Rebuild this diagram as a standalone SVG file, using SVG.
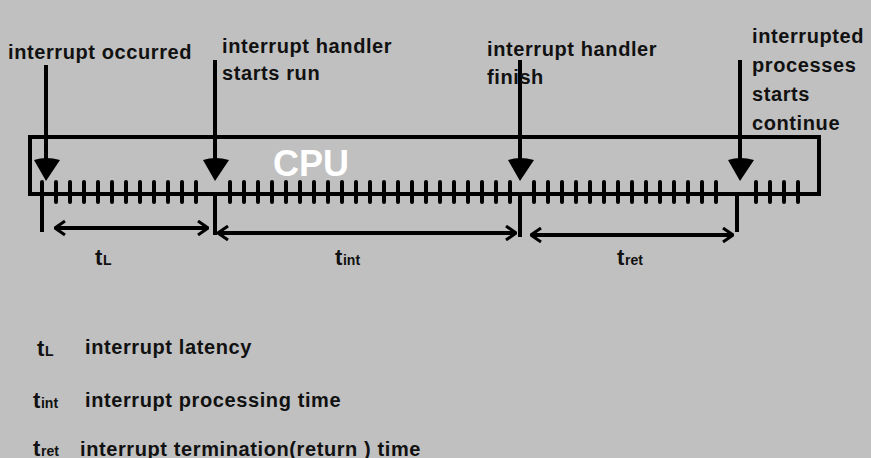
<svg xmlns="http://www.w3.org/2000/svg" width="871" height="458" viewBox="0 0 871 458">
<style>
.t{font-family:"Liberation Sans",Arial,sans-serif;font-weight:bold;font-size:20px;letter-spacing:0.6px;fill:#111}
.s{font-family:"Liberation Sans",Arial,sans-serif;font-weight:bold;font-size:14px;fill:#111}
.ln{stroke:#000;stroke-width:4;fill:none}
.tk{stroke:#000;stroke-width:4;stroke-linecap:round}
</style>
<defs>
<marker id="oa" viewBox="0 0 12 16" refX="11" refY="8" markerWidth="12" markerHeight="16" markerUnits="userSpaceOnUse" orient="auto-start-reverse"><path d="M1 1 L11 8 L1 15" fill="none" stroke="#000" stroke-width="3"/></marker>
</defs>
<rect width="871" height="458" fill="#c0c0c0"/>
<g id="cpu">
<rect x="30" y="137" width="789" height="57" class="ln"/>
<path class="tk" d="M42 182V202M56 182V202M70 182V202M84 182V202M98 182V202M112 182V202M126 182V202M140 182V202M154 182V202M168 182V202M182 182V202M196 182V202M230 182V202M244 182V202M258 182V202M272 182V202M286 182V202M300 182V202M314 182V202M328 182V202M342 182V202M356 182V202M370 182V202M384 182V202M398 182V202M412 182V202M426 182V202M440 182V202M454 182V202M468 182V202M482 182V202M496 182V202M510 182V202M534 182V202M548 182V202M562 182V202M576 182V202M590 182V202M604 182V202M618 182V202M632 182V202M646 182V202M660 182V202M674 182V202M688 182V202M702 182V202M716 182V202M756 182V202M770 182V202M784 182V202M798 182V202"/>
<text x="273" y="176" style="font-family:'Liberation Sans',Arial,sans-serif;font-size:36px;font-weight:bold;fill:#fff">CPU</text>
</g>
<g id="events">
<path class="ln" d="M46 65V165M215 60V165M520 60V165M740 60V165"/>
<path d="M34 160Q46 156 60 160L46 181Z M203 160Q215 156 229 160L215 181Z M508 160Q520 156 534 160L520 181Z M728 160Q740 156 754 160L740 181Z" fill="#000"/>
<path class="ln" d="M42 195V232M215 195V235M520 195V237M737 195V232"/>
</g>
<g id="connectors">
<line x1="55" y1="228" x2="208" y2="228" class="ln" marker-start="url(#oa)" marker-end="url(#oa)"/>
<line x1="218" y1="233" x2="516" y2="233" class="ln" marker-start="url(#oa)" marker-end="url(#oa)"/>
<line x1="531" y1="235" x2="733" y2="235" class="ln" marker-start="url(#oa)" marker-end="url(#oa)"/>
</g>
<g id="labels">
<text class="t" x="8" y="59">interrupt occurred</text>
<text class="t" x="222" y="53">interrupt handler</text>
<text class="t" x="222" y="80">starts run</text>
<text class="t" x="487" y="56">interrupt handler</text>
<text class="t" x="487" y="84">finish</text>
<text class="t" x="752" y="43">interrupted</text>
<text class="t" x="752" y="72">processes</text>
<text class="t" x="752" y="101">starts</text>
<text class="t" x="752" y="130">continue</text>
<text x="95" y="265"><tspan class="t" style="font-size:22px">t</tspan><tspan class="s">L</tspan></text>
<text x="335" y="265"><tspan class="t" style="font-size:22px">t</tspan><tspan class="s">int</tspan></text>
<text x="617" y="265"><tspan class="t" style="font-size:22px">t</tspan><tspan class="s">ret</tspan></text>
<text x="37" y="356"><tspan class="t" style="font-size:22px">t</tspan><tspan class="s">L</tspan></text>
<text class="t" x="85" y="354">interrupt latency</text>
<text x="33" y="408"><tspan class="t" style="font-size:22px">t</tspan><tspan class="s">int</tspan></text>
<text class="t" x="85" y="407">interrupt processing time</text>
<text x="33" y="456"><tspan class="t" style="font-size:22px">t</tspan><tspan class="s">ret</tspan></text>
<text class="t" x="80" y="456">interrupt termination(return ) time</text>
</g>
</svg>
